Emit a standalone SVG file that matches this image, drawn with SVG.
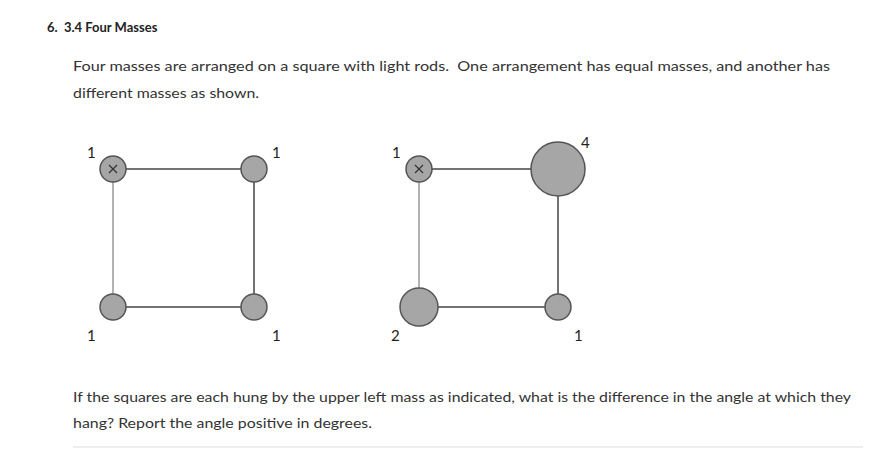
<svg xmlns="http://www.w3.org/2000/svg" width="879" height="450" viewBox="0 0 879 450">
<style>
text{font-family:"Lato","Liberation Sans",sans-serif;fill:#333}
.p{font-size:13.8px}
.h{font-size:13px;font-weight:bold;fill:#222}
.n{font-size:15px;fill:#222}
.m{fill:#a6a6a6;stroke:#555;stroke-width:1.5}
.rod{stroke:#444;stroke-width:1.5;fill:none}
.rodl{stroke:#999;stroke-width:1.5;fill:none}
.x{stroke:#333;stroke-width:1.2}
</style>
<rect width="879" height="450" fill="#fff"/>
<text class="h" x="47" y="32" xml:space="preserve">6.  3.4 Four Masses</text>
<text class="p" x="73" y="71" textLength="757" lengthAdjust="spacingAndGlyphs" xml:space="preserve">Four masses are arranged on a square with light rods.  One arrangement has equal masses, and another has</text>
<text class="p" x="73" y="98" textLength="186" lengthAdjust="spacingAndGlyphs">different masses as shown.</text>
<g id="connectors">
<line class="rod" x1="113" y1="169" x2="254" y2="169"/>
<line class="rodl" x1="113" y1="169" x2="113" y2="307"/>
<line class="rod" x1="254" y1="169" x2="254" y2="307"/>
<line class="rod" x1="113" y1="307" x2="254" y2="307"/>
<line class="rod" x1="419" y1="169" x2="558" y2="169"/>
<line class="rodl" x1="419" y1="169" x2="419" y2="307"/>
<line class="rod" x1="558" y1="169" x2="558" y2="307"/>
<line class="rod" x1="419" y1="307" x2="558" y2="307"/>
</g>
<g id="a-ul"><circle class="m" cx="113" cy="169" r="13"/><path class="x" d="M109 165l8 8M117 165l-8 8"/><text class="n" x="87" y="158">1</text></g>
<g id="a-ur"><circle class="m" cx="254" cy="169" r="13"/><text class="n" x="272" y="158">1</text></g>
<g id="a-ll"><circle class="m" cx="113" cy="307" r="13"/><text class="n" x="87" y="341">1</text></g>
<g id="a-lr"><circle class="m" cx="254" cy="307" r="13"/><text class="n" x="272" y="341">1</text></g>
<g id="b-ul"><circle class="m" cx="419" cy="169" r="13"/><path class="x" d="M415 165l8 8M423 165l-8 8"/><text class="n" x="392" y="158">1</text></g>
<g id="b-ur"><circle class="m" cx="558" cy="169" r="27"/><text class="n" x="581" y="148">4</text></g>
<g id="b-ll"><circle class="m" cx="419" cy="307" r="19"/><text class="n" x="391" y="341">2</text></g>
<g id="b-lr"><circle class="m" cx="558" cy="307" r="13"/><text class="n" x="574" y="341">1</text></g>
<text class="p" x="73" y="402" textLength="778" lengthAdjust="spacingAndGlyphs">If the squares are each hung by the upper left mass as indicated, what is the difference in the angle at which they</text>
<text class="p" x="73" y="428" textLength="299" lengthAdjust="spacingAndGlyphs">hang? Report the angle positive in degrees.</text>
<line x1="73" y1="447" x2="863" y2="447" stroke="#ddd" stroke-width="1"/>
</svg>
